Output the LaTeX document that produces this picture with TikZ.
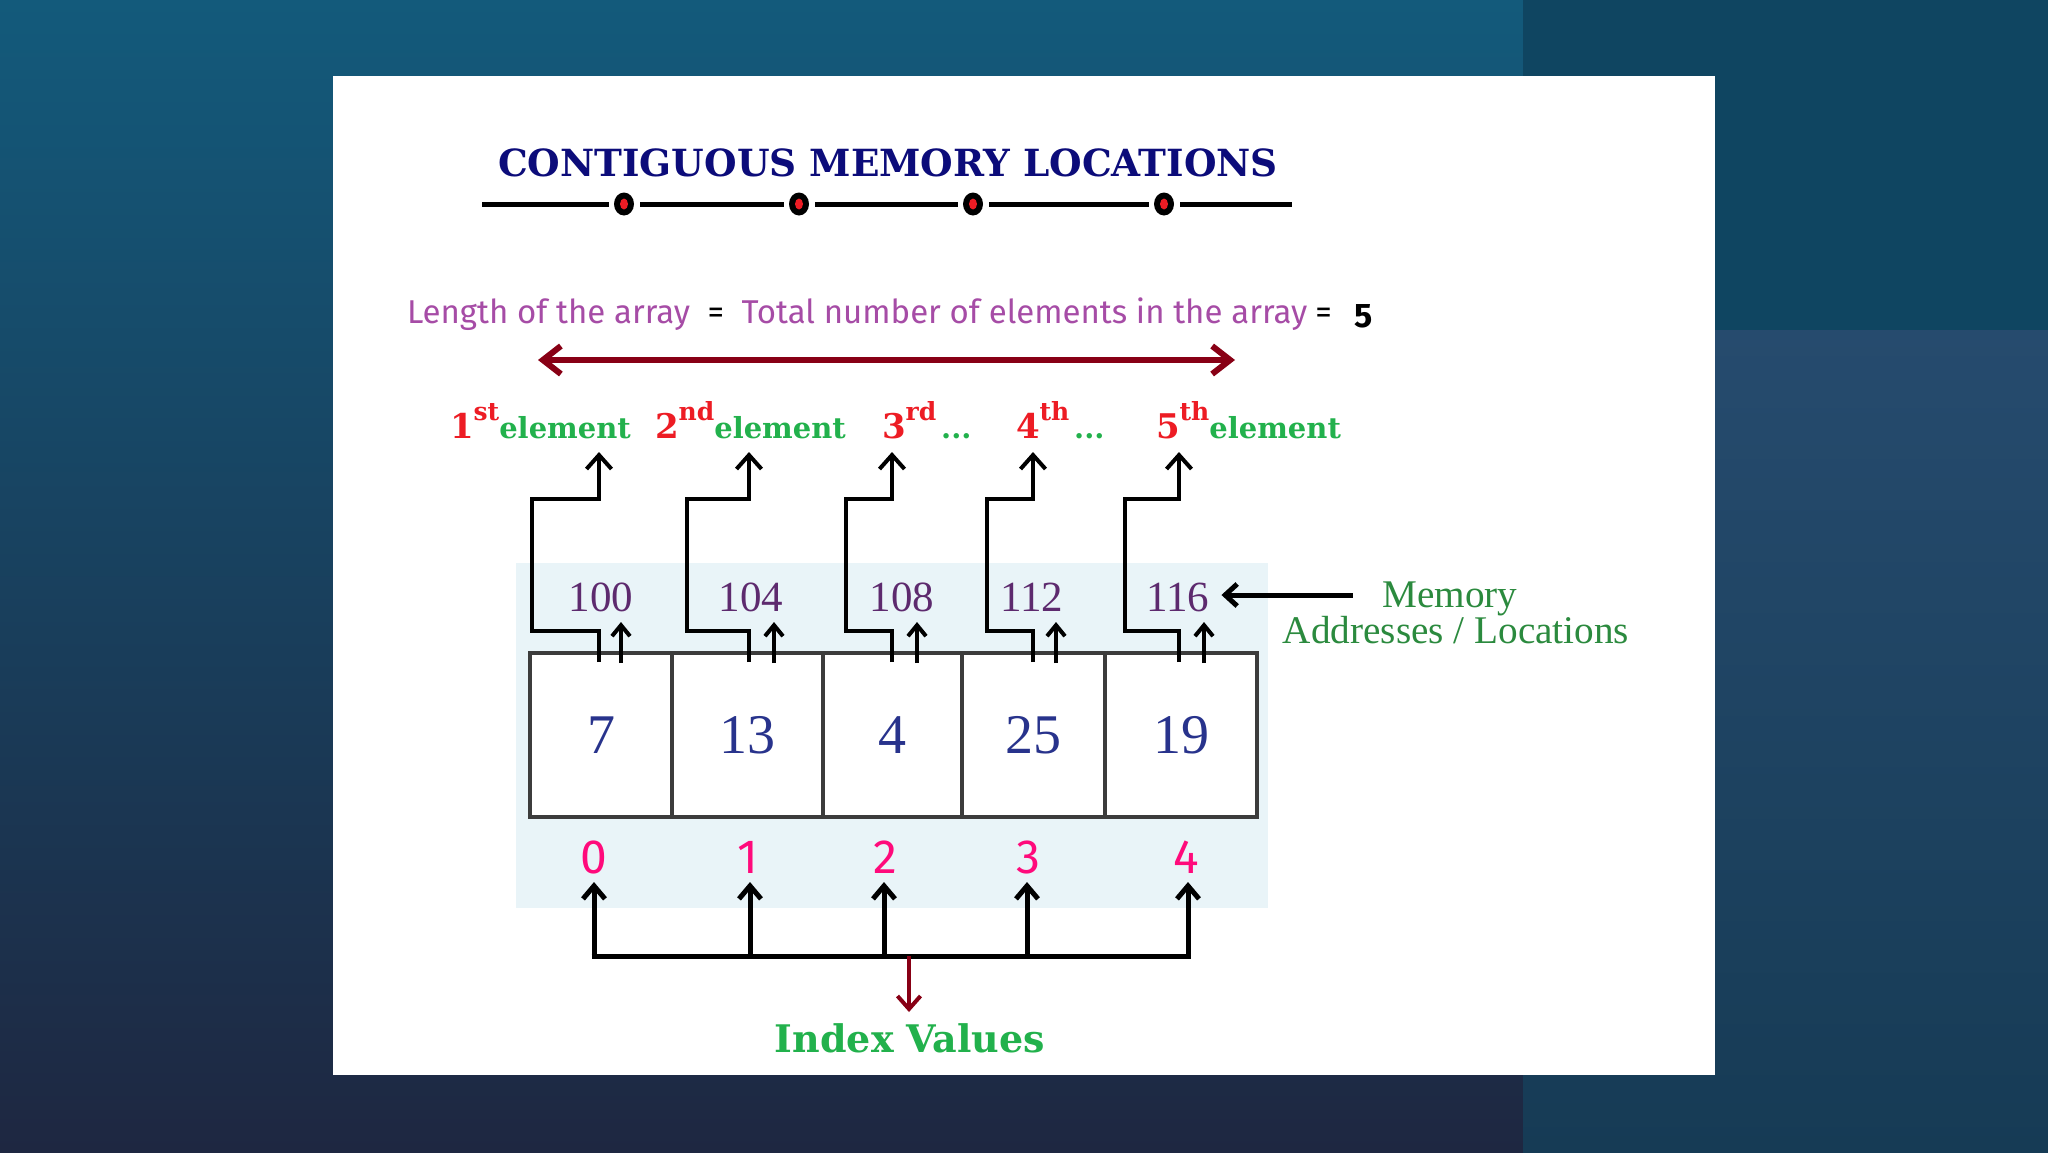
\documentclass[tikz,border=0pt]{standalone}
\usepackage{fontspec}
\setmainfont{Liberation Serif}
\newfontfamily\slabfont{DejaVu Serif}
\newfontfamily\humfont{Fira Sans}
\usetikzlibrary{arrows.meta,calc}
\definecolor{bgA}{HTML}{135A7B}
\definecolor{bgB}{HTML}{0F3A55}
\definecolor{bgC}{HTML}{1E2741}
\definecolor{bgR1}{HTML}{0F4561}
\definecolor{bgR2}{HTML}{264B6E}
\definecolor{bgR3}{HTML}{163B55}
\definecolor{navy}{HTML}{0C0C7A}
\definecolor{lpurple}{HTML}{A64CA6}
\definecolor{dred}{HTML}{880015}
\definecolor{ered}{HTML}{ED1C24}
\definecolor{egreen}{HTML}{22B14C}
\definecolor{mgreen}{HTML}{2B8A3E}
\definecolor{addr}{HTML}{5D2A6E}
\definecolor{valc}{HTML}{28338C}
\definecolor{idxc}{HTML}{FF0A7B}
\definecolor{lblue}{HTML}{E9F4F8}
\definecolor{boxline}{HTML}{3C3C3C}
\newcommand\fsz[1]{\fontsize{#1}{#1}\selectfont}
\newcommand\ordlabel[3]{{\slabfont\bfseries\color{ered}\fsz{17pt}#1\raisebox{9pt}{\fsz{12.5pt}#2}}{\slabfont\bfseries\color{egreen}\fsz{14.5pt}#3}}
\tikzset{
  txt/.style={inner sep=0pt, outer sep=0pt},
  cell/.style={draw=boxline, line width=2pt, fill=white, inner sep=0pt, minimum height=82pt, text=valc, font=\fsz{28pt}},
  addrtxt/.style={txt, text=addr, font=\fsz{21.5pt}},
  idxtxt/.style={txt, text=idxc, font=\humfont\fsz{24pt}},
  lenar/.style={draw=dred, line width=3pt, {Straight Barb[length=9pt,width=14pt]}-{Straight Barb[length=9pt,width=14pt]}},
  elar/.style={draw=black, line width=2pt, -{Straight Barb[length=7pt,width=12.5pt]}},
  shar/.style={draw=black, line width=2pt, -{Straight Barb[length=5.5pt,width=9pt]}},
  idxar/.style={draw=black, line width=2.5pt, -{Straight Barb[length=6.5pt,width=11pt]}},
  memar/.style={draw=black, line width=2.5pt, -{Straight Barb[length=6pt,width=11pt]}},
  downar/.style={draw=dred, line width=2pt, -{Straight Barb[length=6.5pt,width=11.5pt]}},
}
\begin{document}
\begin{tikzpicture}[x=0.5pt,y=-0.5pt]
\useasboundingbox (0,0) rectangle (2048,1152);
% background
\shade[top color=bgA, middle color=bgB, bottom color=bgC] (0,0) rectangle (1523,1152);
\fill[bgR1] (1523,0) rectangle (2048,330);
\shade[top color=bgR2, bottom color=bgR3] (1523,330) rectangle (2048,1152);
% panel
\fill[white] (333,76) rectangle (1715,1075);
% title
\node[txt, text=navy, font=\slabfont\bfseries\fsz{18.7pt}] (title) at (888,163) {CONTIGUOUS MEMORY LOCATIONS};
\draw[line width=2.5pt] (482,204) -- (609,204) (640,204) -- (784,204) (815,204) -- (958,204) (989,204) -- (1149,204) (1180,204) -- (1292,204);
\foreach \x in {624,799,973,1164} {
  \fill[black] (\x,204) ellipse [x radius=10, y radius=11.5];
  \fill[ered] (\x,204) ellipse [x radius=4, y radius=5.5];
}
% length line
\node[txt, anchor=base west, font=\humfont\fsz{16.5pt}, text=lpurple] (len) at (407,323)
  {Length of the array\ \ {\color{black}=}\ \ Total number of elements in the array\hspace{4pt}{\color{black}=}};
\node[txt, anchor=base west, font=\humfont\bfseries\fsz{17pt}, text=black] (five) at (1354,327) {5};
\coordinate (la) at (538,360);
\coordinate (lb) at (1235,360);
\draw[lenar] (la) -- (lb);
% element labels
\node[txt, anchor=base west] (e1) at (450,438) {\ordlabel{1}{st}{element}};
\node[txt, anchor=base west] (e2) at (655,438) {\ordlabel{2}{nd}{element}};
\node[txt, anchor=base west] (e3) at (882,438) {\ordlabel{3}{rd}{\,...}};
\node[txt, anchor=base west] (e4) at (1016,438) {\ordlabel{4}{th}{\,...}};
\node[txt, anchor=base west] (e5) at (1156,438) {\ordlabel{5}{th}{element}};
% light blue band
\fill[lblue] (516,563) rectangle (1268,908);
% cells
\node[cell, minimum width=71pt] (c1) at (601,735) {7};
\node[cell, minimum width=75.5pt] (c2) at (747.5,735) {13};
\node[cell, minimum width=69.5pt] (c3) at (892.5,735) {4};
\node[cell, minimum width=71.5pt] (c4) at (1033.5,735) {25};
\node[cell, minimum width=76pt] (c5) at (1181,735) {19};
% addresses
\node[addrtxt] (a1) at (601,597) {100};
\node[addrtxt] (a2) at (751,597) {104};
\node[addrtxt] (a3) at (902,597) {108};
\node[addrtxt] (a4) at (1032,597) {112};
\node[addrtxt] (a5) at (1178,597) {116};
% element connectors
\foreach \i/\xl/\xr/\xb in {1/532/599/621, 2/687/749/774, 3/846/892/917, 4/987/1033/1056, 5/1125/1179/1204} {
  \coordinate (s\i) at (\xr,662);
  \coordinate (t\i) at (\xr,452);
  \draw[elar] (s\i) -- (\xr,631) -- (\xl,631) -- (\xl,499) -- (\xr,499) -- (t\i);
  \coordinate (u\i) at (\xb,663);
  \coordinate (v\i) at (\xb,622);
  \draw[shar] (u\i) -- (v\i);
}
% memory label
\node[txt, text=mgreen, font=\fsz{19.6pt}, anchor=base] (mem1) at (1450,607) {Memory};
\node[txt, text=mgreen, font=\fsz{19.6pt}, anchor=base] (mem2) at (1456,643) {Addresses / Locations};
\draw[memar] ($(mem1.west |- a5.east)+(-30,-2)$) -- ($(a5.east)+(12,-2)$);
% index values
\node[idxtxt] (i0) at (594,857) {0};
\node[idxtxt] (i1) at (748,857) {1};
\node[idxtxt] (i2) at (885,857) {2};
\node[idxtxt] (i3) at (1028,857) {3};
\node[idxtxt] (i4) at (1186,857) {4};
\foreach \i/\x in {0/594, 1/750, 2/884, 3/1027, 4/1188} {
  \coordinate (ib\i) at (\x,956);
  \coordinate (it\i) at (\x,882);
  \draw[idxar] (ib\i) -- (it\i);
}
\draw[line width=2.5pt] ($(ib0)+(-2.5,0)$) -- ($(ib4)+(2.5,0)$);
\coordinate (dv) at (909,956);
\coordinate (dt) at (909,1012);
\node[txt, anchor=base, text=egreen, font=\slabfont\bfseries\fsz{19pt}] (iv) at (910,1052) {Index Values};
\draw[downar] (dv) -- (dt);
\end{tikzpicture}
\end{document}
